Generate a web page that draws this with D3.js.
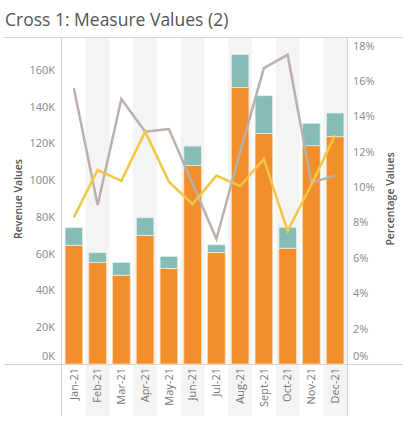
<!DOCTYPE html>
<html>
<head>
<meta charset="utf-8">
<script src="https://cdn.jsdelivr.net/npm/d3@7"></script>
<style>
  body { margin: 0; background: #fff; }
  svg { display: block; font-family: "Open Sans", Lato, sans-serif; }
</style>
</head>
<body>
<div id="chart"></div>
<script>
// months on the x axis
var months = ["Jan-21", "Feb-21", "Mar-21", "Apr-21", "May-21", "Jun-21",
              "Jul-21", "Aug-21", "Sept-21", "Oct-21", "Nov-21", "Dec-21"];
// revenue, bottom (orange) and top (teal) parts of each stacked bar
var revenueA = [64600, 55300, 48300, 70000, 52000, 108000, 60600, 150400, 125500, 63000, 118800, 123700];
var revenueB = [9600, 5300, 7000, 9600, 6600, 10600, 4300, 18100, 20500, 11400, 12200, 12900];
// percentages (lines)
var pctGray = [15.6, 9.0, 15.0, 13.15, 13.3, 10.2, 7.07, 12.0, 16.75, 17.5, 10.26, 10.66];
var pctYellow = [8.3, 10.98, 10.37, 13.15, 10.32, 9.05, 10.66, 10.07, 11.6, 7.53, 10.15, 12.96];
// tick labels
var revTicks = [0, 20000, 40000, 60000, 80000, 100000, 120000, 140000, 160000];
var pctTicks = [0, 2, 4, 6, 8, 10, 12, 14, 16, 18];

var width = 409, height = 421;
var plotLeft = 62, plotRight = 347, plotTop = 38, plotBottom = 364, bandBottom = 416;

var svg = d3.select("#chart").append("svg")
    .attr("width", width)
    .attr("height", height);

// title
svg.append("text")
    .attr("x", 5).attr("y", 26)
    .attr("font-size", 17.5)
    .attr("fill", "#555")
    .text("Cross 1: Measure Values (2)");

var xCol = d3.scaleBand().domain(months).range([plotLeft, plotRight]);
var xBar = d3.scaleBand().domain(months).range([plotLeft, plotRight])
    .paddingInner(0.26).paddingOuter(0.13);
var yRev = d3.scaleLinear().domain([0, 177400]).range([plotBottom, plotTop]);
var yPct = d3.scaleLinear().domain([0, 18.45]).range([plotBottom, plotTop]);

// alternating column shading (plot + header area)
svg.append("g").selectAll("rect")
    .data(months.filter(function(d, i) { return i % 2 === 1; }))
    .enter().append("rect")
    .attr("x", function(d) { return xCol(d); })
    .attr("y", plotTop)
    .attr("width", xCol.bandwidth())
    .attr("height", bandBottom - plotTop)
    .attr("fill", "#f4f4f4");

// frame lines
var frame = svg.append("g").attr("stroke", "#d4d4d4").attr("stroke-width", 1);
frame.append("line").attr("x1", 4).attr("x2", 403).attr("y1", plotTop - 0.5).attr("y2", plotTop - 0.5);
frame.append("line").attr("x1", 4).attr("x2", 403).attr("y1", plotBottom + 0.5).attr("y2", plotBottom + 0.5);
frame.append("line").attr("x1", plotLeft - 0.5).attr("x2", plotLeft - 0.5).attr("y1", plotTop).attr("y2", bandBottom);
frame.append("line").attr("x1", plotRight + 0.5).attr("x2", plotRight + 0.5).attr("y1", plotTop).attr("y2", bandBottom);

// stacked bars
var bars = svg.append("g");
bars.selectAll(".bar-a")
    .data(months)
    .enter().append("rect")
    .attr("class", "bar-a")
    .attr("x", function(d) { return xBar(d); })
    .attr("width", xBar.bandwidth())
    .attr("y", function(d, i) { return yRev(revenueA[i]); })
    .attr("height", function(d, i) { return plotBottom - yRev(revenueA[i]); })
    .attr("fill", "#f28e2b")
    .attr("stroke", "#fbd9b8")
    .attr("stroke-width", 0.8);
bars.selectAll(".bar-b")
    .data(months)
    .enter().append("rect")
    .attr("class", "bar-b")
    .attr("x", function(d) { return xBar(d); })
    .attr("width", xBar.bandwidth())
    .attr("y", function(d, i) { return yRev(revenueA[i] + revenueB[i]); })
    .attr("height", function(d, i) { return yRev(revenueA[i]) - yRev(revenueA[i] + revenueB[i]); })
    .attr("fill", "#86bcb6")
    .attr("stroke", "#e3f0ee")
    .attr("stroke-width", 0.8);

// lines
var lineGen = d3.line()
    .x(function(d, i) { return xCol(months[i]) + xCol.bandwidth() / 2; })
    .y(function(d) { return yPct(d); });
svg.append("path")
    .datum(pctGray)
    .attr("d", lineGen)
    .attr("fill", "none")
    .attr("stroke", "#bab0ac")
    .attr("stroke-width", 2.5)
    .attr("stroke-linejoin", "miter");
svg.append("path")
    .datum(pctYellow)
    .attr("d", lineGen)
    .attr("fill", "none")
    .attr("stroke", "#f1c744")
    .attr("stroke-width", 2.5)
    .attr("stroke-linejoin", "miter");

// left axis labels
svg.append("g").selectAll("text")
    .data(revTicks)
    .enter().append("text")
    .attr("x", 55)
    .attr("y", function(d) { return d === 0 ? plotBottom - 8 : yRev(d); })
    .attr("dy", "0.35em")
    .attr("text-anchor", "end")
    .attr("font-size", 11)
    .attr("fill", "#888")
    .text(function(d) { return (d / 1000) + "K"; });

// right axis labels
svg.append("g").selectAll("text")
    .data(pctTicks)
    .enter().append("text")
    .attr("x", 353)
    .attr("y", function(d) { return d === 0 ? plotBottom - 8 : yPct(d); })
    .attr("dy", "0.35em")
    .attr("text-anchor", "start")
    .attr("font-size", 11)
    .attr("fill", "#888")
    .text(function(d) { return d + "%"; });

// x labels
svg.append("g").selectAll("text")
    .data(months)
    .enter().append("text")
    .attr("transform", function(d) {
        return "translate(" + (xCol(d) + xCol.bandwidth() / 2) + "," + (plotBottom + 4) + ") rotate(-90)";
    })
    .attr("dy", "0.35em")
    .attr("text-anchor", "end")
    .attr("font-size", 11)
    .attr("fill", "#777")
    .text(function(d) { return d; });

// axis titles
svg.append("text")
    .attr("transform", "translate(18,199) rotate(-90)")
    .attr("dy", "0.35em")
    .attr("text-anchor", "middle")
    .attr("font-size", 10.5)
    .attr("font-weight", 600)
    .attr("fill", "#555")
    .text("Revenue Values");
svg.append("text")
    .attr("transform", "translate(390,199) rotate(-90)")
    .attr("dy", "0.35em")
    .attr("text-anchor", "middle")
    .attr("font-size", 10.5)
    .attr("font-weight", 600)
    .attr("fill", "#555")
    .text("Percentage Values");
</script>
</body>
</html>
